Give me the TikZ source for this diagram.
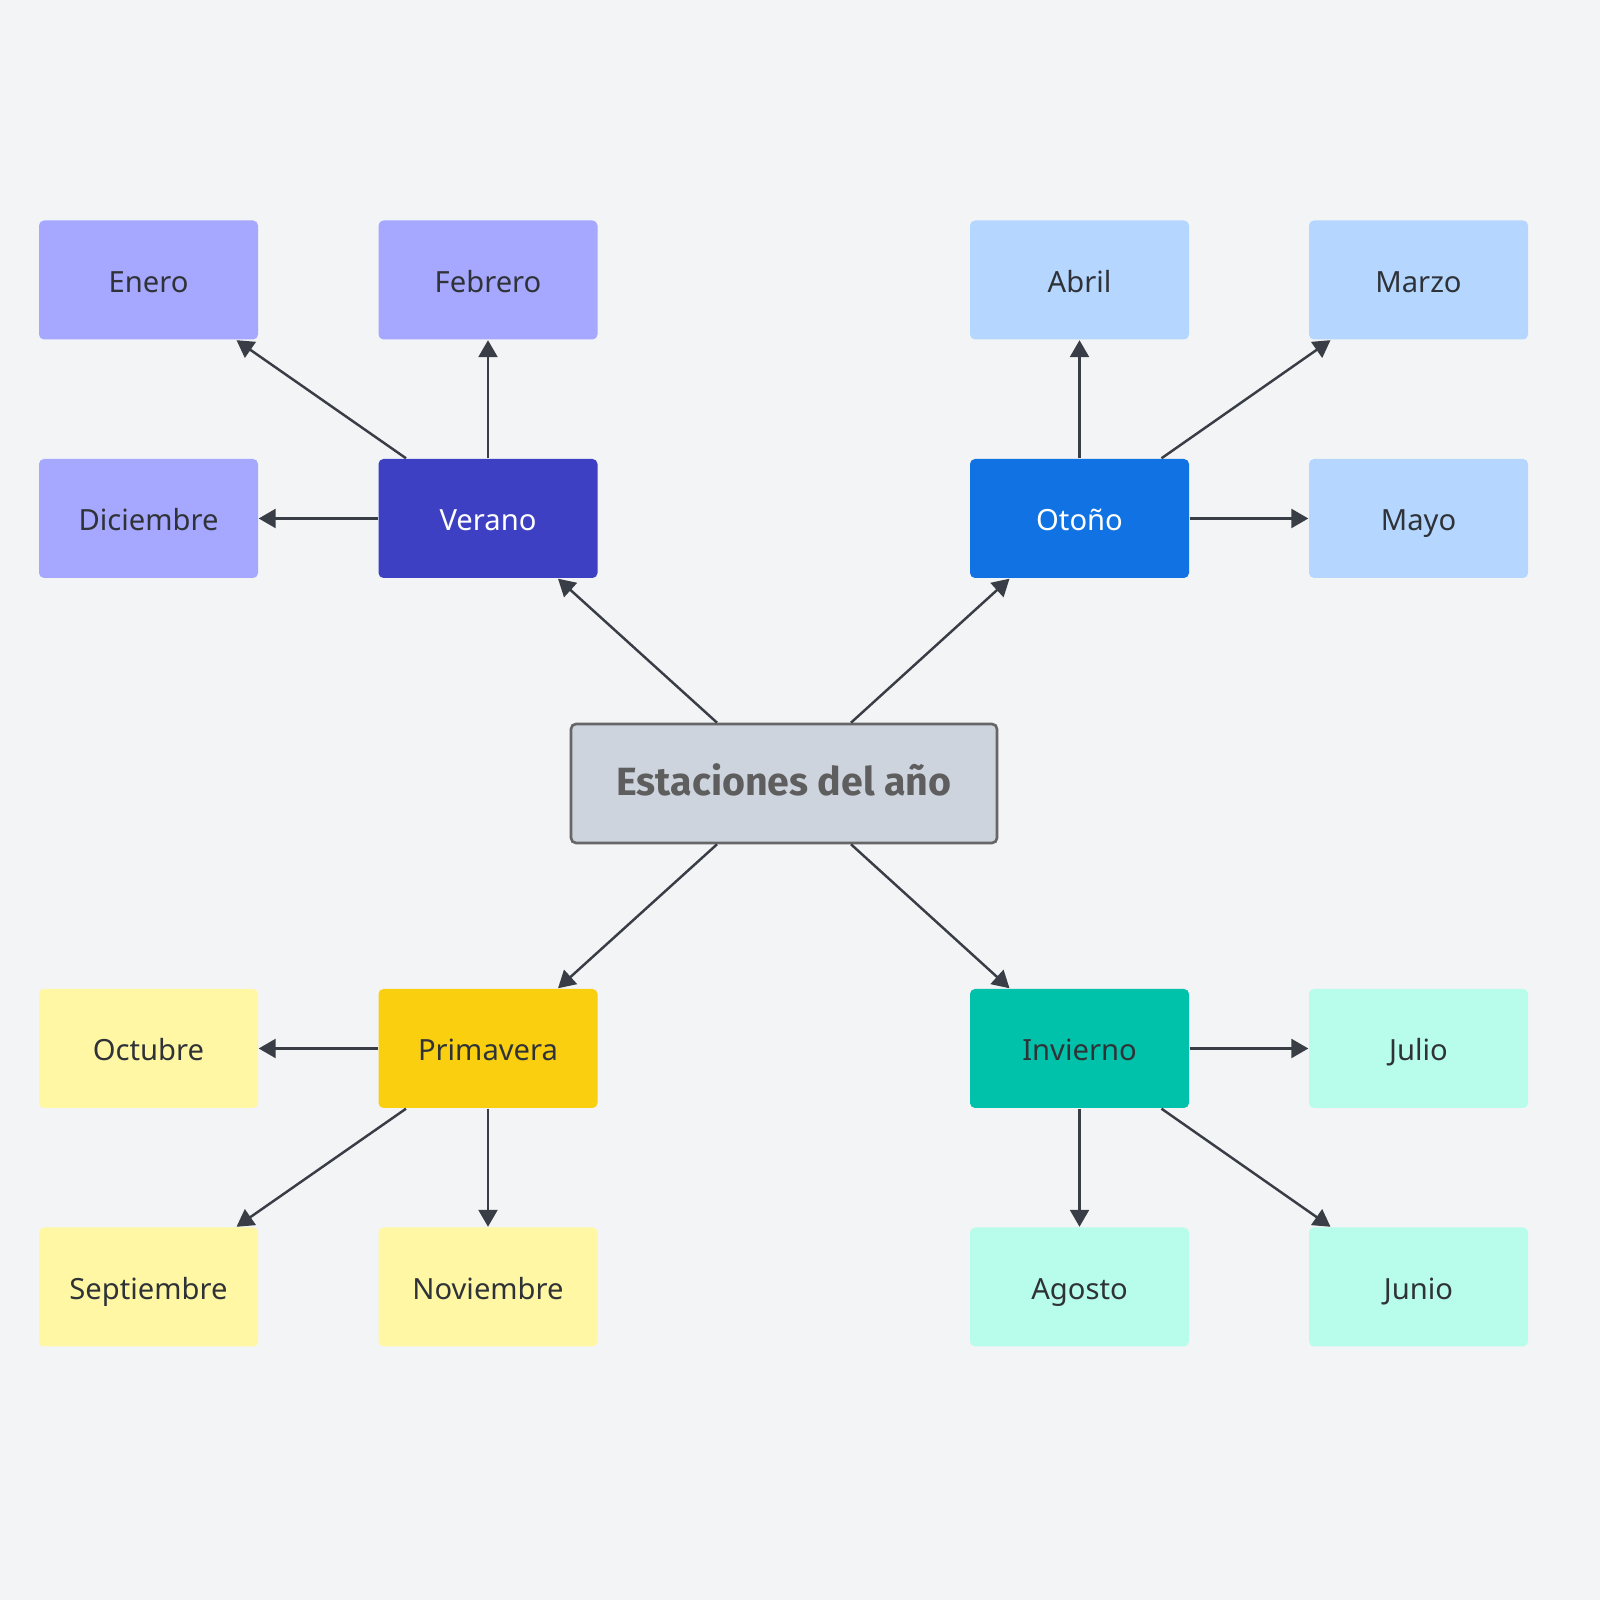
\documentclass[tikz,border=0pt]{standalone}
\usepackage{fontspec}
\setmainfont{Noto Sans}
\newfontfamily\titulo{Fira Sans}
\usetikzlibrary{arrows.meta}

\definecolor{bgcol}{HTML}{F3F4F6}
\definecolor{linecol}{HTML}{383D46}
\definecolor{txtcol}{HTML}{2F3338}
\definecolor{verano}{HTML}{3D40C2}
\definecolor{veranoL}{HTML}{A6A7FF}
\definecolor{otono}{HTML}{1173E3}
\definecolor{otonoL}{HTML}{B5D6FF}
\definecolor{prima}{HTML}{FACF10}
\definecolor{primaL}{HTML}{FFF7A3}
\definecolor{invi}{HTML}{00C2AA}
\definecolor{inviL}{HTML}{B8FCEB}
\definecolor{centro}{HTML}{CDD4DD}

\tikzset{
  caja/.style={rounded corners=0.05cm, minimum width=2.19cm, minimum height=1.19cm,
    inner sep=0pt, text=txtcol, text height=1.6ex, text depth=0.3ex,
    font=\fontsize{8.3}{10}\selectfont},
  flecha/.style={draw=linecol, line width=0.7pt, -{Triangle[length=0.17cm,width=0.19cm]}}
}

\begin{document}
\begin{tikzpicture}
  \fill[bgcol] (0,0) rectangle (16,16);
  % centro
  \node[caja, fill=centro, draw=black!60, line width=0.75pt, minimum width=4.26cm,
    text=black!63, font=\fontsize{11.2}{13}\titulo\bfseries] (c) at (7.84,8.165) {Estaciones del año};
  % estaciones
  \node[caja, fill=verano, text=white] (ver) at (4.88,10.815) {Verano};
  \node[caja, fill=otono, text=white] (oto) at (10.795,10.815) {Otoño};
  \node[caja, fill=prima] (pri) at (4.88,5.515) {Primavera};
  \node[caja, fill=invi] (inv) at (10.795,5.515) {Invierno};
  % meses
  \foreach \n/\t/\x/\y/\c in {ene/Enero/1.485/13.2/veranoL, feb/Febrero/4.88/13.2/veranoL,
      dic/Diciembre/1.485/10.815/veranoL, abr/Abril/10.795/13.2/otonoL,
      mar/Marzo/14.185/13.2/otonoL, may/Mayo/14.185/10.815/otonoL,
      oct/Octubre/1.485/5.515/primaL, sep/Septiembre/1.485/3.13/primaL,
      nov/Noviembre/4.88/3.13/primaL, jul/Julio/14.185/5.515/inviL,
      ago/Agosto/10.795/3.13/inviL, jun/Junio/14.185/3.13/inviL}{
    \node[caja, fill=\c] (\n) at (\x,\y) {\t};
  }
  % flechas
  \draw[flecha] ([xshift=-0.67cm]c.north) -- ([xshift=0.7cm]ver.south);
  \draw[flecha] ([xshift=0.67cm]c.north) -- ([xshift=-0.7cm]oto.south);
  \draw[flecha] ([xshift=-0.67cm]c.south) -- ([xshift=0.7cm]pri.north);
  \draw[flecha] ([xshift=0.67cm]c.south) -- ([xshift=-0.7cm]inv.north);
  \draw[flecha] ([xshift=-0.82cm]ver.north) -- ([xshift=0.88cm]ene.south);
  \draw[flecha] (ver.north) -- (feb.south);
  \draw[flecha] (ver.west) -- (dic.east);
  \draw[flecha] (oto.north) -- (abr.south);
  \draw[flecha] ([xshift=0.82cm]oto.north) -- ([xshift=-0.88cm]mar.south);
  \draw[flecha] (oto.east) -- (may.west);
  \draw[flecha] (pri.west) -- (oct.east);
  \draw[flecha] ([xshift=-0.82cm]pri.south) -- ([xshift=0.88cm]sep.north);
  \draw[flecha] (pri.south) -- (nov.north);
  \draw[flecha] (inv.east) -- (jul.west);
  \draw[flecha] (inv.south) -- (ago.north);
  \draw[flecha] ([xshift=0.82cm]inv.south) -- ([xshift=-0.88cm]jun.north);
\end{tikzpicture}
\end{document}
